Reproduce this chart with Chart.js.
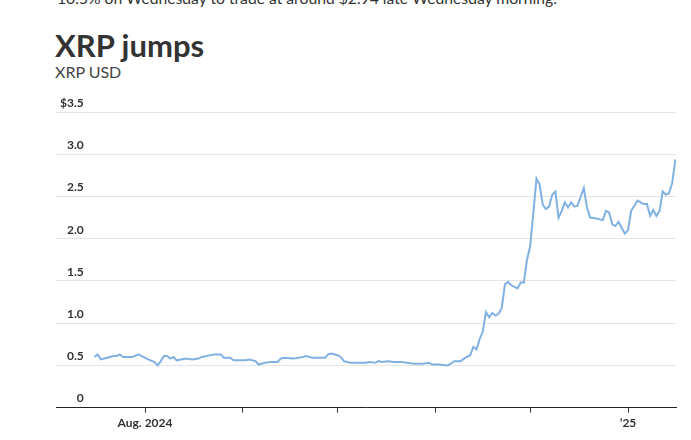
<!DOCTYPE html>
<html>
<head>
<meta charset="utf-8">
<script src="https://cdn.jsdelivr.net/npm/chart.js@4"></script>
<style>
    body { margin: 0; background: #fff; width: 691px; height: 440px; overflow: hidden; position: relative; font-family: Lato, 'Noto Sans', sans-serif; color: #333; }
    .lead { position: absolute; left: 57px; top: -12px; font-size: 15.7px; line-height: 20px; white-space: nowrap; color: #333; }
    .title { position: absolute; left: 55px; top: 27px; font-size: 31px; font-weight: 700; line-height: 36px; color: #333; }
    .sub { position: absolute; left: 55px; top: 62px; font-size: 16px; line-height: 20px; color: #444; }
    #wrap { position: absolute; left: 0; top: 0; width: 691px; height: 440px; }
</style>
</head>
<body>
<div class="lead">10.5% on Wednesday to trade at around $2.94 late Wednesday morning.</div>
<div class="title">XRP jumps</div>
<div class="sub">XRP USD</div>
<div id="wrap"><canvas id="xrpChart"></canvas></div>
<script>
// --------------------------------------------------------------------------
// XRP price, days counted from Aug. 1, 2024
// --------------------------------------------------------------------------
const days = [
    -16, -15, -14, -12, -10, -9, -8, -7, -4, -2, -1, 1, 3, 4, 5, 6, 7, 8, 9, 10,
    13, 15, 17, 18, 22, 24, 25, 27, 28, 32, 33, 35, 36, 38, 40, 42, 43, 44, 47, 50,
    51, 53, 57, 58, 59, 61, 62, 63, 65, 68, 70, 71, 73, 74, 75, 77, 79, 81, 83, 85,
    88, 90, 91, 93, 96, 98, 100, 101, 103, 104, 105, 106, 107, 108, 109, 110, 111, 112, 113, 114,
    115, 116, 117, 118, 119, 120, 121, 122, 123, 124, 125, 126, 127, 128, 129, 130, 131, 132, 133, 134,
    135, 136, 137, 139, 140, 141, 143, 145, 146, 147, 148, 149, 150, 151, 152, 153, 154, 155, 156, 157,
    158, 159, 160, 161, 162, 163, 164, 165, 166, 167, 168
];
const prices = [
    0.60, 0.63, 0.57, 0.59, 0.61, 0.61, 0.63, 0.60, 0.60, 0.63, 0.61, 0.57, 0.54, 0.50, 0.55, 0.61, 0.61, 0.58, 0.60, 0.56,
    0.58, 0.57, 0.58, 0.60, 0.63, 0.63, 0.59, 0.59, 0.56, 0.56, 0.57, 0.55, 0.51, 0.53, 0.54, 0.54, 0.58, 0.59, 0.58, 0.60,
    0.61, 0.59, 0.59, 0.63, 0.64, 0.62, 0.60, 0.55, 0.53, 0.53, 0.53, 0.54, 0.53, 0.55, 0.54, 0.55, 0.54, 0.54, 0.53, 0.52,
    0.52, 0.53, 0.51, 0.51, 0.50, 0.55, 0.55, 0.58, 0.62, 0.72, 0.69, 0.81, 0.90, 1.13, 1.07, 1.12, 1.09, 1.11, 1.18, 1.46,
    1.49, 1.45, 1.43, 1.41, 1.48, 1.48, 1.75, 1.91, 2.30, 2.71, 2.64, 2.40, 2.35, 2.38, 2.52, 2.56, 2.25, 2.33, 2.43, 2.37,
    2.43, 2.38, 2.39, 2.60, 2.37, 2.25, 2.24, 2.22, 2.33, 2.31, 2.17, 2.15, 2.20, 2.13, 2.06, 2.10, 2.33, 2.39, 2.45, 2.43,
    2.41, 2.41, 2.27, 2.34, 2.27, 2.33, 2.56, 2.52, 2.54, 2.66, 2.94
];

// month starts: Aug, Sep, Oct, Nov, Dec, Jan
const tickDays = [0, 31, 61, 92, 122, 153];
const tickLabels = ['Aug. 2024', '', '', '', '', '\u201925'];
const yTicks = [0, 0.5, 1, 1.5, 2, 2.5, 3, 3.5];

const points = days.map((d, i) => ({ x: d, y: prices[i] }));

new Chart(document.getElementById('xrpChart'), {
    type: 'line',
    data: {
        datasets: [{
            label: 'XRP USD',
            data: points,
            borderColor: '#80b1e2',
            borderWidth: 2,
            pointRadius: 0,
            tension: 0,
            fill: false
        }]
    },
    options: {
        responsive: true, maintainAspectRatio: false,
        animation: false,
        devicePixelRatio: 1,
        layout: { padding: { left: 48, top: 112, right: 15, bottom: 7 } },
        plugins: { legend: { display: false }, tooltip: { enabled: false } },
        scales: {
            x: {
                type: 'linear',
                min: -28.2, max: 168.2,
                afterBuildTicks: (scale) => { scale.ticks = tickDays.map(v => ({ value: v })); },
                grid: { drawOnChartArea: false, drawTicks: true, tickLength: 5, color: '#333' },
                border: { display: true, color: '#222', width: 1 },
                ticks: {
                    autoSkip: false, maxRotation: 0, padding: 3,
                    color: '#333',
                    font: { family: 'Lato', size: 12, weight: 'bold' },
                    callback: (v) => tickLabels[tickDays.indexOf(v)] || ''
                }
            },
            y: {
                min: 0, max: 3.5,
                afterBuildTicks: (scale) => { scale.ticks = yTicks.map(v => ({ value: v })); },
                grid: { color: '#e4e4e4', lineWidth: 1, drawTicks: false },
                border: { display: false },
                ticks: {
                    mirror: true, crossAlign: 'far', padding: 4, labelOffset: -9,
                    color: '#333',
                    font: { family: 'Lato', size: 12, weight: 'bold' },
                    callback: (v) => v === 0 ? '0' : (v === 3.5 ? '$3.5' : v.toFixed(1))
                }
            }
        }
    }
});
</script>
</body>
</html>
